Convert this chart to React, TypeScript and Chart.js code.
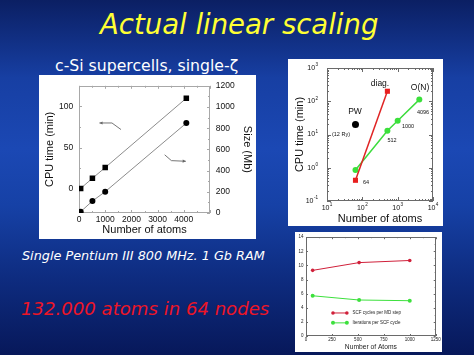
import React, { useEffect, useRef } from 'react';
import { Chart, registerables } from 'chart.js';

Chart.register(...registerables);

const FONT = "'Liberation Sans', Arial, Helvetica, sans-serif";
const SLIDE_FONT = "'DejaVu Sans', Verdana, sans-serif";

// ---------- Panel 1: CPU time and memory vs number of atoms ----------
const atoms1 = [64, 512, 1000, 4096];
const cpuTime1 = [0.8, 13, 26, 110];
const sizeMb1 = [12, 113, 201, 848];
const xTickLabels1 = [0, 1000, 2000, 3000, 4000];
const leftTickLabels1 = [0, 50, 100];
const rightTickLabels1 = [0, 200, 400, 600, 800, 1000, 1200];
// annotation arrows (data units): last point is the arrow tip
const cpuArrow = [
  { x: 1604, y: 72 },
  { x: 1258, y: 80 },
  { x: 780, y: 80 },
];
const sizeArrow = [
  { x: 3270, y: 549 },
  { x: 3527, y: 494 },
  { x: 4077, y: 488 },
];

// ---------- Panel 2: log-log CPU time ----------
const diagAtoms = [64, 512];
const diagTime = [0.42, 200];
const onAtoms = [64, 512, 1000, 4096];
const onTime = [0.85, 13, 26, 112];
const pwAtoms = [64];
const pwTime = [20];
const logXDecades = [1, 2, 3, 4];
const logYDecades = [-1, 0, 1, 2, 3];
const bigNotes2 = [
  { text: 'diag.', x: 316, y: 330 },
  { text: 'O(N)', x: 4290, y: 250 },
  { text: 'PW', x: 62, y: 47.5 },
];
const smallNotes2 = [
  { text: '(12 Ry)', x: 24.9, y: 9.7 },
  { text: '64', x: 127, y: 0.355 },
  { text: '512', x: 692, y: 6.8 },
  { text: '1000', x: 1963, y: 18 },
  { text: '4096', x: 5214, y: 47.5 },
];

// ---------- Panel 3: SCF statistics ----------
const atoms3 = [64, 512, 1000];
const scfPerMd = [9.3, 10.4, 10.7];
const itersPerScf = [5.7, 5.1, 5.0];
const xTickLabels3 = [0, 250, 500, 750, 1000, 1250];
const yTickLabels3 = [0, 2, 4, 6, 8, 10, 12, 14];
const legend3 = ['SCF cycles per MD step', 'Iterations per SCF cycle'];

type Mark = [number, number];

const plain = (v: any) => String(v);

function stepMarks(from: number, to: number, step: number, majorEvery: number, major: number, minor: number): Mark[] {
  const out: Mark[] = [];
  for (let v = from; v <= to + 1e-9; v += step) {
    const isMajor = Math.abs(v / majorEvery - Math.round(v / majorEvery)) < 1e-6;
    out.push([v, isMajor ? major : minor]);
  }
  return out;
}

function logMarks(d0: number, d1: number): Mark[] {
  const out: Mark[] = [];
  for (let d = d0; d < d1; d++) {
    for (let k = 1; k <= 9; k++) out.push([k * Math.pow(10, d), k === 1 ? 4 : 2]);
  }
  out.push([Math.pow(10, d1), 4]);
  return out;
}

function framePlugin(id: string, color: string, xMarks: Mark[], yMarks: Mark[], y2Marks?: Mark[]) {
  return {
    id,
    beforeDatasetsDraw(chart: any) {
      const { ctx, chartArea: a } = chart;
      const xs = chart.scales.x;
      const ys = chart.scales.y;
      const ys2 = y2Marks ? chart.scales.y2 : null;
      ctx.save();
      ctx.strokeStyle = color;
      ctx.lineWidth = 1;
      ctx.strokeRect(Math.round(a.left) + 0.5, Math.round(a.top) + 0.5, Math.round(a.right - a.left) - 1, Math.round(a.bottom - a.top) - 1);
      ctx.beginPath();
      for (const [v, len] of xMarks) {
        const px = Math.round(xs.getPixelForValue(v)) + 0.5;
        ctx.moveTo(px, a.bottom);
        ctx.lineTo(px, a.bottom - len);
        ctx.moveTo(px, a.top);
        ctx.lineTo(px, a.top + len);
      }
      for (const [v, len] of yMarks) {
        const py = Math.round(ys.getPixelForValue(v)) + 0.5;
        ctx.moveTo(a.left, py);
        ctx.lineTo(a.left + len, py);
        if (!ys2) {
          ctx.moveTo(a.right, py);
          ctx.lineTo(a.right - len, py);
        }
      }
      if (ys2 && y2Marks) {
        for (const [v, len] of y2Marks) {
          const py = Math.round(ys2.getPixelForValue(v)) + 0.5;
          ctx.moveTo(a.right, py);
          ctx.lineTo(a.right - len, py);
        }
      }
      ctx.stroke();
      ctx.restore();
    },
  };
}

const arrowPlugin = {
  id: 'arrows1',
  afterDatasetsDraw(chart: any) {
    const { ctx } = chart;
    const xs = chart.scales.x;
    const draw = (pts: { x: number; y: number }[], yScale: any) => {
      const p = pts.map((q) => [xs.getPixelForValue(q.x), yScale.getPixelForValue(q.y)]);
      ctx.save();
      ctx.strokeStyle = '#666';
      ctx.fillStyle = '#666';
      ctx.lineWidth = 0.9;
      ctx.beginPath();
      p.forEach(([x, y], i) => (i ? ctx.lineTo(x, y) : ctx.moveTo(x, y)));
      ctx.stroke();
      const [x1, y1] = p[p.length - 1];
      const [x0, y0] = p[p.length - 2];
      const ang = Math.atan2(y1 - y0, x1 - x0);
      const L = 3.5;
      ctx.beginPath();
      ctx.moveTo(x1, y1);
      ctx.lineTo(x1 - L * Math.cos(ang - 0.45), y1 - L * Math.sin(ang - 0.45));
      ctx.lineTo(x1 - L * Math.cos(ang + 0.45), y1 - L * Math.sin(ang + 0.45));
      ctx.closePath();
      ctx.fill();
      ctx.restore();
    };
    draw(cpuArrow, chart.scales.y);
    draw(sizeArrow, chart.scales.y2);
  },
};

const tickFont1 = { family: FONT, size: 8.5 };
const titleFont = { family: FONT, size: 11 };
const TXT = '#111';

function config1(): any {
  return {
    type: 'scatter',
    data: {
      datasets: [
        {
          label: 'CPU time (min)',
          data: atoms1.map((x, i) => ({ x, y: cpuTime1[i] })),
          yAxisID: 'y',
          showLine: true,
          borderColor: '#8c8c8c',
          borderWidth: 1,
          pointStyle: 'rect',
          pointRadius: 3.9,
          pointBackgroundColor: '#000',
          pointBorderColor: '#000',
          pointBorderWidth: 0,
        },
        {
          label: 'Size (Mb)',
          data: atoms1.map((x, i) => ({ x, y: sizeMb1[i] })),
          yAxisID: 'y2',
          showLine: true,
          borderColor: '#8c8c8c',
          borderWidth: 1,
          pointStyle: 'circle',
          pointRadius: 3,
          pointBackgroundColor: '#000',
          pointBorderColor: '#000',
          pointBorderWidth: 0,
        },
      ],
    },
    options: {
      animation: false,
      responsive: false,
      maintainAspectRatio: false,
      layout: { padding: { top: 6, right: 0, bottom: 0, left: 0 } },
      plugins: { legend: { display: false }, tooltip: { enabled: false } },
      scales: {
        x: {
          type: 'linear',
          position: 'bottom',
          min: 0,
          max: 5000,
          afterBuildTicks: (s: any) => {
            s.ticks = xTickLabels1.map((v) => ({ value: v }));
          },
          afterFit: (s: any) => {
            s.height = 26;
          },
          ticks: { font: tickFont1, color: TXT, padding: 2, maxRotation: 0, autoSkip: false, callback: plain },
          grid: { display: false, drawTicks: false },
          border: { display: false },
          title: { display: true, text: 'Number of atoms', font: titleFont, color: TXT, padding: { top: 0, bottom: 2.4 } },
        },
        y: {
          type: 'linear',
          position: 'left',
          min: -29,
          max: 125,
          afterBuildTicks: (s: any) => {
            s.ticks = leftTickLabels1.map((v) => ({ value: v }));
          },
          afterFit: (s: any) => {
            s.width = 40;
          },
          ticks: { font: tickFont1, color: TXT, padding: 5.7, autoSkip: false, callback: plain },
          grid: { display: false, drawTicks: false },
          border: { display: false },
          title: { display: true, text: 'CPU time (min)', font: titleFont, color: TXT, padding: { top: 4.4, bottom: 0 } },
        },
        y2: {
          type: 'linear',
          position: 'right',
          min: 0,
          max: 1200,
          afterBuildTicks: (s: any) => {
            s.ticks = rightTickLabels1.map((v) => ({ value: v }));
          },
          afterFit: (s: any) => {
            s.width = 46;
          },
          ticks: { font: tickFont1, color: TXT, padding: 5.7, autoSkip: false, callback: plain },
          grid: { display: false, drawTicks: false },
          border: { display: false },
          title: { display: true, text: 'Size (Mb)', font: titleFont, color: TXT, padding: { top: 2.7, bottom: 0 } },
        },
      },
    },
    plugins: [
      framePlugin('frame1', '#a8a8a8', stepMarks(0, 5000, 500, 1000, 3, 2), stepMarks(-25, 125, 25, 50, 3, 2), stepMarks(0, 1200, 100, 200, 3, 2)),
      arrowPlugin,
    ],
  };
}

const panel2Text = {
  id: 'panel2Text',
  afterDatasetsDraw(chart: any) {
    const { ctx, chartArea: a } = chart;
    const xs = chart.scales.x;
    const ys = chart.scales.y;
    const drawPow = (exp: number, x: number, y: number, align: 'right' | 'center') => {
      ctx.save();
      ctx.fillStyle = TXT;
      ctx.textAlign = 'left';
      ctx.textBaseline = 'middle';
      ctx.font = `7px ${FONT}`;
      const wb = ctx.measureText('10').width;
      ctx.font = `4.6px ${FONT}`;
      const e = String(exp);
      const we = ctx.measureText(e).width;
      const total = wb + we + 0.4;
      const x0 = align === 'right' ? x - total : x - total / 2;
      ctx.font = `7px ${FONT}`;
      ctx.fillText('10', x0, y);
      ctx.font = `4.6px ${FONT}`;
      ctx.fillText(e, x0 + wb + 0.4, y - 3);
      ctx.restore();
    };
    logYDecades.forEach((d) => drawPow(d, a.left - 9, ys.getPixelForValue(Math.pow(10, d)), 'right'));
    logXDecades.forEach((d) => drawPow(d, xs.getPixelForValue(Math.pow(10, d)), a.bottom + 7, 'center'));
    ctx.save();
    ctx.fillStyle = TXT;
    ctx.textAlign = 'center';
    ctx.textBaseline = 'middle';
    ctx.font = `8.5px ${FONT}`;
    bigNotes2.forEach((n) => ctx.fillText(n.text, xs.getPixelForValue(n.x), ys.getPixelForValue(n.y)));
    ctx.font = `5.5px ${FONT}`;
    smallNotes2.forEach((n) => ctx.fillText(n.text, xs.getPixelForValue(n.x), ys.getPixelForValue(n.y)));
    ctx.restore();
  },
};

function config2(): any {
  return {
    type: 'scatter',
    data: {
      datasets: [
        {
          label: 'diag.',
          data: diagAtoms.map((x, i) => ({ x, y: diagTime[i] })),
          showLine: true,
          borderColor: '#e02424',
          borderWidth: 1.5,
          pointStyle: 'rect',
          pointRadius: 3.6,
          pointBackgroundColor: '#e81e1e',
          pointBorderWidth: 0,
        },
        {
          label: 'O(N)',
          data: onAtoms.map((x, i) => ({ x, y: onTime[i] })),
          showLine: true,
          borderColor: '#3ddc3d',
          borderWidth: 1.5,
          pointStyle: 'circle',
          pointRadius: 3,
          pointBackgroundColor: '#3be03b',
          pointBorderWidth: 0,
        },
        {
          label: 'PW',
          data: pwAtoms.map((x, i) => ({ x, y: pwTime[i] })),
          showLine: false,
          pointStyle: 'circle',
          pointRadius: 3.5,
          pointBackgroundColor: '#000',
          pointBorderWidth: 0,
        },
      ],
    },
    options: {
      animation: false,
      responsive: false,
      maintainAspectRatio: false,
      layout: { padding: { top: 9, right: 10, bottom: 0, left: 0 } },
      plugins: { legend: { display: false }, tooltip: { enabled: false } },
      scales: {
        x: {
          type: 'logarithmic',
          position: 'bottom',
          min: 10,
          max: 10000,
          afterFit: (s: any) => {
            s.height = 25;
          },
          ticks: { display: false },
          grid: { display: false, drawTicks: false },
          border: { display: false },
          title: { display: true, text: 'Number of atoms', font: titleFont, color: TXT, padding: { top: 0, bottom: 0.4 } },
        },
        y: {
          type: 'logarithmic',
          position: 'left',
          min: 0.1,
          max: 1000,
          afterFit: (s: any) => {
            s.width = 39;
          },
          ticks: { display: false },
          grid: { display: false, drawTicks: false },
          border: { display: false },
          title: { display: true, text: 'CPU time (min)', font: titleFont, color: TXT, padding: { top: 5.4, bottom: 0 } },
        },
      },
    },
    plugins: [framePlugin('frame2', '#6a6a6a', logMarks(1, 4), logMarks(-1, 3)), panel2Text],
  };
}

const legendColors3 = ['#d0203a', '#3de03d'];

const legendPlugin3 = {
  id: 'legend3',
  afterDatasetsDraw(chart: any) {
    const { ctx, chartArea: a } = chart;
    const w = a.right - a.left;
    const h = a.bottom - a.top;
    const rows = [0.767, 0.867];
    legend3.forEach((text, i) => {
      const y = a.top + rows[i] * h;
      const x0 = a.left + 0.208 * w;
      const x1 = a.left + 0.315 * w;
      ctx.save();
      ctx.strokeStyle = legendColors3[i];
      ctx.fillStyle = legendColors3[i];
      ctx.lineWidth = 1;
      ctx.beginPath();
      ctx.moveTo(x0, y);
      ctx.lineTo(x1, y);
      ctx.stroke();
      [x0, x1].forEach((x) => {
        ctx.beginPath();
        ctx.arc(x, y, i === 0 ? 1.8 : 2, 0, Math.PI * 2);
        ctx.fill();
      });
      ctx.fillStyle = '#222';
      ctx.font = `4.5px ${FONT}`;
      ctx.textAlign = 'left';
      ctx.textBaseline = 'middle';
      ctx.fillText(text, a.left + 0.359 * w, y);
      ctx.restore();
    });
  },
};

const tickFont3 = { family: FONT, size: 4.5 };

function config3(): any {
  return {
    type: 'scatter',
    data: {
      datasets: [
        {
          label: legend3[0],
          data: atoms3.map((x, i) => ({ x, y: scfPerMd[i] })),
          showLine: true,
          borderColor: legendColors3[0],
          borderWidth: 1,
          pointStyle: 'circle',
          pointRadius: 1.8,
          pointBackgroundColor: legendColors3[0],
          pointBorderWidth: 0,
        },
        {
          label: legend3[1],
          data: atoms3.map((x, i) => ({ x, y: itersPerScf[i] })),
          showLine: true,
          borderColor: legendColors3[1],
          borderWidth: 1,
          pointStyle: 'circle',
          pointRadius: 2,
          pointBackgroundColor: legendColors3[1],
          pointBorderWidth: 0,
        },
      ],
    },
    options: {
      animation: false,
      responsive: false,
      maintainAspectRatio: false,
      layout: { padding: { top: 4, right: 6, bottom: 0, left: 0 } },
      plugins: { legend: { display: false }, tooltip: { enabled: false } },
      scales: {
        x: {
          type: 'linear',
          position: 'bottom',
          min: 0,
          max: 1250,
          afterBuildTicks: (s: any) => {
            s.ticks = xTickLabels3.map((v) => ({ value: v }));
          },
          afterFit: (s: any) => {
            s.height = 16;
          },
          ticks: { font: tickFont3, color: '#222', padding: 1.3, maxRotation: 0, autoSkip: false, callback: plain },
          grid: { display: false, drawTicks: false },
          border: { display: false },
          title: { display: true, text: 'Number of Atoms', font: { family: FONT, size: 6.7 }, color: '#222', padding: { top: 0, bottom: 1.3 } },
        },
        y: {
          type: 'linear',
          position: 'left',
          min: 0,
          max: 14,
          afterBuildTicks: (s: any) => {
            s.ticks = yTickLabels3.map((v) => ({ value: v }));
          },
          afterFit: (s: any) => {
            s.width = 11;
          },
          ticks: { font: tickFont3, color: '#222', padding: 2.5, autoSkip: false, callback: plain },
          grid: { display: false, drawTicks: false },
          border: { display: false },
        },
      },
    },
    plugins: [framePlugin('frame3', '#6a6a6a', stepMarks(0, 1250, 125, 250, 2, 1), stepMarks(0, 14, 1, 2, 2, 1)), legendPlugin3],
  };
}

const abs = (left: number, top: number): React.CSSProperties => ({ position: 'absolute', left, top, whiteSpace: 'nowrap' });

export default function App() {
  const c1 = useRef<HTMLCanvasElement>(null);
  const c2 = useRef<HTMLCanvasElement>(null);
  const c3 = useRef<HTMLCanvasElement>(null);

  useEffect(() => {
    const charts = [new Chart(c1.current!, config1()), new Chart(c2.current!, config2()), new Chart(c3.current!, config3())];
    return () => charts.forEach((c) => c.destroy());
  }, []);

  return (
    <div
      style={{
        position: 'fixed',
        left: 0,
        top: 0,
        width: 474,
        height: 355,
        overflow: 'hidden',
        background: 'linear-gradient(180deg, #0b1f63 0%, #173fa3 22%, #1b48b4 42%, #1641a6 58%, #0e2c80 78%, #07185a 100%)',
        fontFamily: SLIDE_FONT,
      }}
    >
      <div style={{ ...abs(100, 11.4), fontSize: 27.5, lineHeight: '27.5px', fontStyle: 'italic', color: '#ffff33' }}>Actual linear scaling</div>
      <div style={{ ...abs(55, 58.4), fontSize: 15.7, lineHeight: '15.7px', color: '#ffffff' }}>c-Si supercells, single-ζ</div>
      <div style={{ ...abs(22, 250.2), fontSize: 12.8, lineHeight: '12.8px', fontStyle: 'italic', color: '#ffffff' }}>
        Single Pentium III 800 MHz. 1 Gb RAM
      </div>
      <div style={{ ...abs(21, 299.8), fontSize: 18.1, lineHeight: '18.1px', fontStyle: 'italic', color: '#ee1526' }}>132.000 atoms in 64 nodes</div>
      <canvas ref={c1} width={217} height={164} style={{ position: 'absolute', left: 39, top: 75, width: 217, height: 164, background: '#ffffff' }} />
      <canvas ref={c2} width={155} height={167} style={{ position: 'absolute', left: 288, top: 59, width: 155, height: 167, background: '#ffffff' }} />
      <canvas ref={c3} width={147} height={120} style={{ position: 'absolute', left: 295, top: 232, width: 147, height: 120, background: '#ffffff' }} />
    </div>
  );
}
